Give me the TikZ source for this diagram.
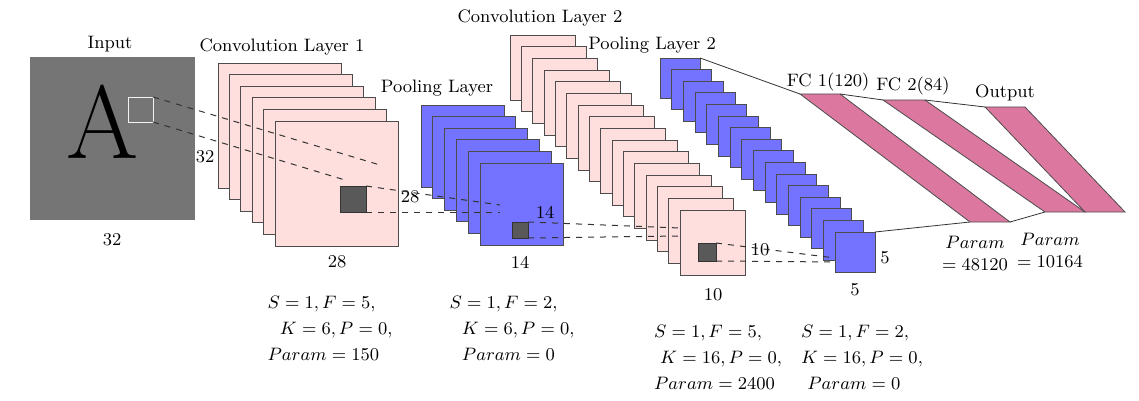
\documentclass[tikz,border=0pt]{standalone}
\begin{document}
\begin{tikzpicture}[x=0.5pt,y=-0.5pt,
  pinkmap/.style={draw=black!70,fill=red!13,line width=0.4pt},
  bluemap/.style={draw=black!70,fill=blue!55!white,line width=0.4pt},
  fcband/.style={draw=black!70,fill={rgb,255:red,220;green,120;blue,160},line width=0.4pt},
  lbl/.style={font=\small},
  dl/.style={dashed,black!80,line width=0.5pt}]
\useasboundingbox (0,0) rectangle (1139,401);
% Input
\fill[black!54] (30,57) rectangle (195,220);
\node[font=\fontsize{52}{52}\selectfont] (A) at (103,122) {A};
\draw[white!90!gray] (128,97) rectangle (153,122);
\node[lbl] (inl) at (110,44) {Input};
\node[lbl] at (112,240) {32};
\node[lbl] at (205,157) {32};
% Conv1
\foreach \i in {0,...,5}{\draw[pinkmap] (218+11.4*\i,63+11.6*\i) rectangle ++(123,125);}
\fill[gray!70!black] (340,186) rectangle (366,212);
\draw[black!80] (340,186) rectangle (366,212);
\node[lbl] at (282,47) {Convolution Layer 1};
\node[lbl] at (337,262) {28};
\node[lbl] at (410,197) {28};
\draw[dl] (153,97) -- (380,165);
\draw[dl] (153,122) -- (345,180);
% Pool1
\foreach \i in {0,...,5}{\draw[bluemap] (421+11.8*\i,105+11.6*\i) rectangle ++(83,82);}
\fill[gray!70!black] (512,222) rectangle (528,238);
\draw[black!80] (512,222) rectangle (528,238);
\node[lbl] at (437,88) {Pooling Layer};
\node[lbl] at (520,262) {14};
\node[lbl] at (545,212) {14};
\draw[dl] (366,186) -- (500,205);
\draw[dl] (366,212) -- (500,212);
% Conv2
\foreach \i in {0,...,15}{\draw[pinkmap] (510+11.33*\i,35+11.67*\i) rectangle ++(65,65);}
\fill[gray!70!black] (698,243) rectangle (716,261);
\draw[black!80] (698,243) rectangle (716,261);
\node[lbl] at (540,18) {Convolution Layer 2};
\node[lbl] at (713,295) {10};
\node[lbl] at (760,250) {10};
\draw[dl] (528,222) -- (680,228);
\draw[dl] (528,238) -- (680,236);
% Pool2
\foreach \i in {0,...,15}{\draw[bluemap] (660+11.67*\i,58+11.6*\i) rectangle ++(40,40);}
\node[lbl] at (652,45) {Pooling Layer 2};
\node[lbl] at (885,258) {5};
\node[lbl] at (855,290) {5};
\draw[dl] (716,243) -- (835,258);
\draw[dl] (716,261) -- (835,262);
% FC
\draw[black!80] (700,58) -- (800,94);
\draw[black!80] (875,232) -- (970,222);
\draw[fcband] (800,94) -- (840,94) -- (1010,222) -- (970,222) -- cycle;
\draw[black!80] (840,94) -- (883,100);
\draw[black!80] (1010,222) -- (1045,212);
\draw[fcband] (883,100) -- (925,100) -- (1085,212) -- (1045,212) -- cycle;
\draw[black!80] (925,100) -- (985,107);
\draw[fcband] (985,107) -- (1025,107) -- (1125,212) -- (1085,212) -- cycle;
\node[lbl] at (828,82) {FC 1(120)};
\node[lbl] at (913,86) {FC 2(84)};
\node[lbl] at (1005,93) {Output};
\node[lbl,align=center] at (975,253) {$Param$\\$=48120$};
\node[lbl,align=center] at (1050,250) {$Param$\\$=10164$};
% bottom
\node[lbl,align=left] at (330,328) {$S=1,F=5,$\\[2pt]\ \ $K=6,P=0,$\\[2pt] $Param=150$};
\node[lbl,align=left] at (512,328) {$S=1,F=2,$\\[2pt]\ \ $K=6,P=0,$\\[2pt]\ \ $Param=0$};
\node[lbl,align=left] at (718,357) {$S=1,F=5,$\\[2pt]\ $K=16,P=0,$\\[2pt]$Param=2400$};
\node[lbl,align=left] at (862,357) {$S=1,F=2,$\\[2pt]$K=16,P=0,$\\[2pt]\ $Param=0$};
\end{tikzpicture}
\end{document}
